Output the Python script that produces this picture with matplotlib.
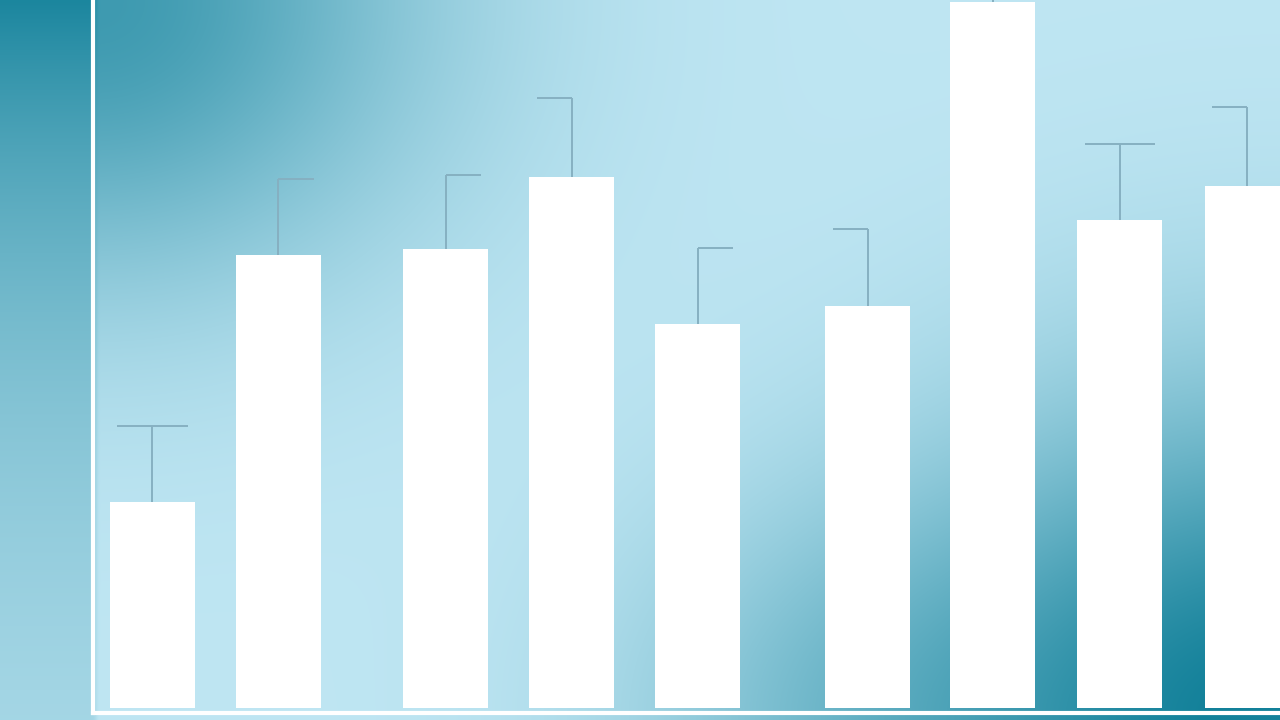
import numpy as np
import matplotlib.pyplot as plt
from matplotlib.colors import to_rgb

# bar positions (x) and heights
x_pos = [0.47, 1.47, 2.80, 3.80, 4.80, 6.15, 7.14, 8.15, 9.16]
heights = [2.06, 4.53, 4.59, 5.31, 3.84, 4.02, 7.06, 4.88, 5.22]
errors = [0.76, 0.76, 0.74, 0.79, 0.76, 0.77, 0.80, 0.76, 0.79]
cap_side = ["both", "right", "right", "left", "right", "left", "both", "both", "left"]

bar_w = 0.675
cap_w = 0.28
err_color = "#86b0c1"

W, H = 1280, 720
fig = plt.figure(figsize=(12.8, 7.2), dpi=100)

# background gradient (teal corners, light blue middle)
bg = fig.add_axes([0, 0, 1, 1])
xx, yy = np.meshgrid(np.linspace(0, W, 320), np.linspace(0, H, 180))
d = 0.75 * np.exp(-((xx - 93) / 330.0) ** 2 - (yy / 280.0) ** 2)
d += np.exp(-((W - xx) / 350.0) ** 2 - ((H - yy) / 320.0) ** 2)
d += 0.3 * np.exp(-((xx - 850) / 250.0) ** 2 - ((H - yy) / 220.0) ** 2)
strip = 0.95 * np.exp(-yy / 400.0)
d = np.where(xx < 93, np.maximum(d, strip), d)
d = np.clip(d, 0, 1)
light = np.array(to_rgb("#bfe6f3"))
dark = np.array(to_rgb("#13819a"))
img = light * (1 - d[..., None]) + dark * d[..., None]
bg.imshow(img, extent=[0, W, H, 0], aspect="auto", interpolation="bicubic")
bg.set_xlim(0, W)
bg.set_ylim(H, 0)
bg.axis("off")

ax = fig.add_axes([93 / W, 7 / H, (W - 93) / W, 713 / H])
ax.patch.set_alpha(0)
ax.bar(x_pos, heights, width=bar_w, color="white", zorder=2)

tops = [h + e for h, e in zip(heights, errors)]
ax.vlines(x_pos, heights, tops, color=err_color, lw=1.4, zorder=1)
for x, t, side in zip(x_pos, tops, cap_side):
    lo = x - cap_w if side in ("both", "left") else x
    hi = x + cap_w if side in ("both", "right") else x
    ax.hlines(t, lo, hi, color=err_color, lw=1.4, zorder=1)

ax.set_xlim(0, 9.42)
ax.set_ylim(-0.05, 7.08)
for s in ["top", "right"]:
    ax.spines[s].set_visible(False)
for s in ["left", "bottom"]:
    ax.spines[s].set_color("white")
    ax.spines[s].set_linewidth(3)
ax.set_xticks([])
ax.set_yticks([])

fig.savefig("out.png", dpi=100)
